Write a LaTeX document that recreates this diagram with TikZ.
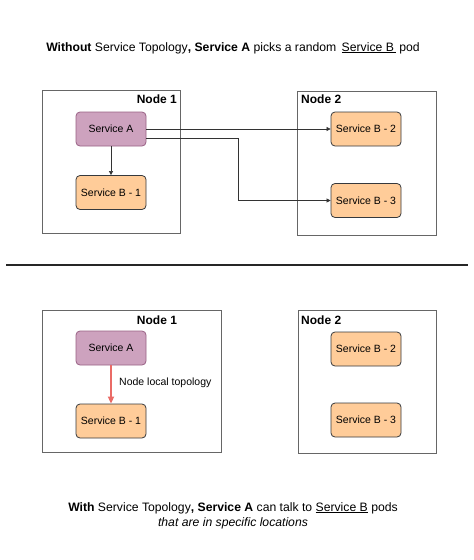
\documentclass[tikz,border=0pt]{standalone}
\usepackage{fontspec}
\setmainfont{Liberation Sans}
\usetikzlibrary{arrows.meta}
\definecolor{purfill}{HTML}{CDA2BE}
\definecolor{purdraw}{HTML}{996185}
\definecolor{orfill}{HTML}{FFCC99}
\definecolor{ordraw}{HTML}{36393D}
\definecolor{redarr}{HTML}{EA6B66}
\definecolor{boxgray}{HTML}{666666}
\tikzset{
  hostbox/.style={draw=boxgray, line width=0.8pt, fill=white},
  svca/.style={draw=purdraw, fill=purfill, rounded corners=4pt, line width=0.8pt, minimum width=70pt, minimum height=34pt, inner sep=0pt, font=\fontsize{10.5}{12}\selectfont},
  svcb/.style={draw=ordraw, fill=orfill, rounded corners=4pt, line width=0.8pt, minimum width=70pt, minimum height=34pt, inner sep=0pt, font=\fontsize{10.5}{12}\selectfont},
  hostlbl/.style={font=\fontsize{12}{14}\selectfont\bfseries, inner sep=0pt},
  conn/.style={draw=black!80, line width=0.6pt, -{Triangle[length=4pt,width=4pt]}},
  redconn/.style={draw=redarr, line width=1.6pt, -{Triangle[length=7pt,width=6pt]}},
  captext/.style={font=\fontsize{12.2}{14}\selectfont, inner sep=0pt},
}
\begin{document}
\begin{tikzpicture}[x=1pt,y=-1pt]
\useasboundingbox (0,0) rectangle (474,560);
% title
\node[captext] (title) at (233,48) {\textbf{Without} Service Topology\textbf{, Service A} picks a random \,\underline{Service B\,} pod};
% top hosts
\draw[hostbox] (42,90) rectangle (180,233);
\node[hostlbl, anchor=north east] (n1t) at (177,95) {Node 1};
\draw[hostbox] (297,91) rectangle (436,235);
\node[hostlbl, anchor=north west] (n2t) at (301,95) {Node 2};
\node[svca] (saT) at (111,129) {Service A};
\node[svcb] (b1T) at (111,192.5) {Service B - 1};
\node[svcb] (b2T) at (366,129) {Service B - 2};
\node[svcb] (b3T) at (366,200.5) {Service B - 3};
\draw[conn] (saT.south) -- (b1T.north);
\draw[conn] (saT.east) -- (b2T.west);
\coordinate (saT2) at ([yshift=-9pt]saT.east);
\coordinate (b3Tw) at (b3T.west);
\draw[conn] (saT2) -| (238,200.5) -- (b3Tw);
% divider
\coordinate (dl) at (6,265);
\coordinate (dr) at (468,265);
\draw[line width=2pt, black!85] (dl) -- (dr);
% bottom hosts
\draw[hostbox] (42,310) rectangle (221,452);
\node[hostlbl] (n1b) at (157,320) {Node 1};
\draw[hostbox] (298,310) rectangle (436,453);
\node[hostlbl, anchor=west] (n2b) at (301,320) {Node 2};
\node[svca] (saB) at (111,348) {Service A};
\node[svcb] (b1B) at (111,421) {Service B - 1};
\node[svcb] (b2B) at (366,349) {Service B - 2};
\node[svcb] (b3B) at (366,420) {Service B - 3};
\draw[redconn] (saB.south) -- (b1B.north);
\node[font=\fontsize{10.5}{12}\selectfont, anchor=west, inner sep=0pt] (nlt) at (119,383) {Node local topology};
% caption
\node[captext] (c1) at (233,508) {\textbf{With} Service Topology\textbf{, Service A} can talk to \underline{Service B} pods};
\node[captext] (c2) at (233,523) {\itshape that are in specific locations};
\end{tikzpicture}
\end{document}
